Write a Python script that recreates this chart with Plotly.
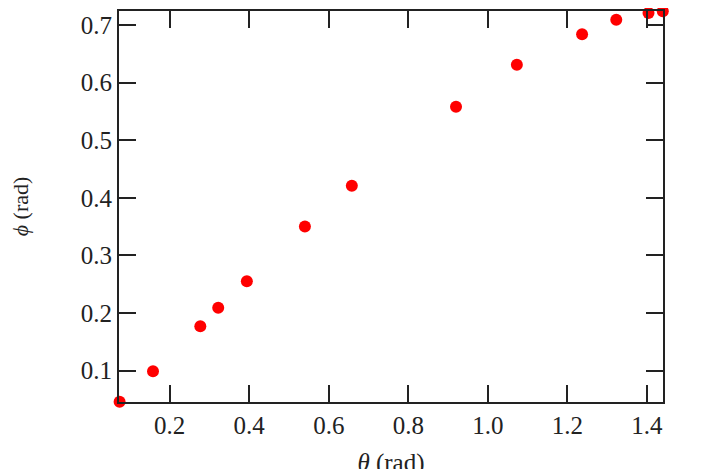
import plotly.graph_objects as go

# theta (rad) vs phi (rad)
theta = [0.074, 0.158, 0.277, 0.322, 0.394, 0.540, 0.658, 0.920, 1.073, 1.237, 1.323, 1.404, 1.440]
phi = [0.046, 0.099, 0.177, 0.209, 0.255, 0.350, 0.421, 0.558, 0.631, 0.684, 0.709, 0.721, 0.724]

x_ticks = [0.2, 0.4, 0.6, 0.8, 1.0, 1.2, 1.4]
y_ticks = [0.1, 0.2, 0.3, 0.4, 0.5, 0.6, 0.7]

fnt = dict(family="Liberation Serif, Times New Roman, serif", size=25, color="#222")

trace = go.Scatter(x=theta, y=phi, mode="markers",
                   marker=dict(color="#ff0000", size=12, line=dict(width=0)),
                   cliponaxis=False, showlegend=False)

axis_common = dict(showgrid=False, zeroline=False, showline=True, automargin=False,
                   linecolor="#222", linewidth=2, mirror="allticks",
                   ticks="inside", ticklen=17, tickwidth=2, tickcolor="#222",
                   tickfont=fnt)

# page body has an 8px margin, so the plot box is shifted back by that much
layout = go.Layout(
    width=720, height=469,
    margin=dict(l=111, r=65, t=3, b=75),
    paper_bgcolor="white", plot_bgcolor="white",
    xaxis=dict(range=[0.0725, 1.4405], tickvals=x_ticks,
               ticktext=["%.1f" % v for v in x_ticks],
               title=dict(text="<i>θ</i> (rad)", font=fnt, standoff=24),
               **axis_common),
    yaxis=dict(range=[0.0455, 0.7243], tickvals=y_ticks,
               ticktext=["%.1f" % v for v in y_ticks],
               title=dict(text="<i>ϕ</i> (rad)", font=dict(fnt, size=22), standoff=59),
               **axis_common),
)

fig = go.Figure(data=[trace], layout=layout)
fig.write_html("out.html")
